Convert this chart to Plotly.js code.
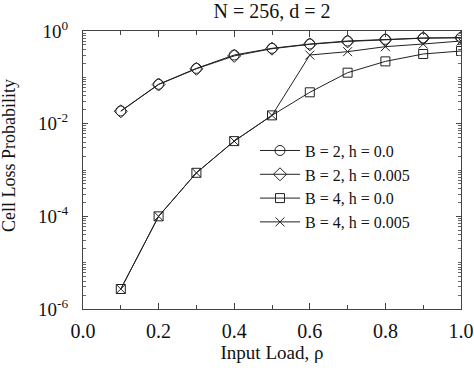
<!DOCTYPE html>
<html>
<head>
<meta charset="utf-8">
<script src="https://cdn.plot.ly/plotly-3.0.1.min.js"></script>
<style>html,body{margin:0;padding:0;background:#fff}#chart{width:474px;height:368px}</style>
</head>
<body>
<div id="chart"></div>
<script>
const load = [0.1, 0.2, 0.3, 0.4, 0.5, 0.6, 0.7, 0.8, 0.9, 1.0];
const b2h0 = [0.0188, 0.0707, 0.156, 0.303, 0.423, 0.524, 0.608, 0.66, 0.706, 0.72];
const b2h005 = [0.0185, 0.070, 0.153, 0.29, 0.415, 0.515, 0.595, 0.65, 0.70, 0.715];
const b4h0 = [2.7e-6, 1.0e-4, 8.7e-4, 4.2e-3, 0.0151, 0.0475, 0.126, 0.221, 0.319, 0.37];
const b4h005 = [2.7e-6, 1.0e-4, 8.7e-4, 4.2e-3, 0.0151, 0.303, 0.358, 0.459, 0.524, 0.608];
const seriesNames = ["B = 2, h = 0.0", "B = 2, h = 0.005", "B = 4, h = 0.0", "B = 4, h = 0.005"];
const yTickVals = [1e-6, 1e-4, 1e-2, 1];
const yTickText = ["10<sup>-6</sup>", "10<sup>-4</sup>", "10<sup>-2</sup>", "10<sup>0</sup>"];
const xTickVals = [0.0, 0.2, 0.4, 0.6, 0.8, 1.0];
const xTickText = ["0.0", "0.2", "0.4", "0.6", "0.8", "1.0"];

const font = "Liberation Serif, Times New Roman, serif";
const symbols = ["circle-open", "diamond-open", "square-open", "x-thin-open"];
const sizes = [10, 10, 9, 9];
const ys = [b2h0, b2h005, b4h0, b4h005];

const traces = ys.map((y, i) => ({
  x: load, y: y, name: seriesNames[i], type: "scatter", mode: "lines+markers",
  line: {color: "#222", width: 1},
  marker: {symbol: symbols[i], size: sizes[i], color: "#222", line: {color: "#222", width: 1}}
}));

const layout = {
  width: 474, height: 368,
  margin: {l: 83, r: 13, t: 31, b: 59},
  paper_bgcolor: "#fff", plot_bgcolor: "#fff",
  font: {family: font, size: 19, color: "#111"},
  title: {text: "N = 256, d = 2", font: {family: font, size: 20, color: "#111"}, x: 0.574, xanchor: "center", y: 0.97, yanchor: "middle"},
  showlegend: true,
  legend: {x: 0.455, y: 0.631, xanchor: "left", yanchor: "top", bgcolor: "rgba(0,0,0,0)", font: {family: font, size: 16}, tracegroupgap: 0, itemwidth: 40},
  xaxis: {
    range: [0, 1.0], tickmode: "array", tickvals: xTickVals, ticktext: xTickText,
    tickfont: {family: font, size: 20},
    ticks: "inside", ticklen: 6, tickcolor: "#444", mirror: "ticks", showline: true, linecolor: "#444", linewidth: 1,
    showgrid: false, zeroline: false, ticklabelstandoff: 4,
    minor: {ticks: "inside", ticklen: 4, tickcolor: "#444", dtick: 0.1, tick0: 0, showgrid: false},
    title: {text: "Input Load, ρ", font: {family: font, size: 19}, standoff: 4}
  },
  yaxis: {
    type: "log", range: [-6, 0], tickmode: "array", tickvals: yTickVals, ticktext: yTickText,
    tickfont: {family: font, size: 19},
    ticks: "inside", ticklen: 5, tickcolor: "#444", mirror: "ticks", showline: true, linecolor: "#444", linewidth: 1,
    showgrid: false, zeroline: false, ticklabelstandoff: 10,
    minor: {ticks: "inside", ticklen: 3, tickcolor: "#666", dtick: "D1", showgrid: false}
  },
  annotations: [{
    text: "Cell Loss Probability", xref: "paper", yref: "paper", x: -0.196, y: 0.554,
    xanchor: "center", yanchor: "middle", textangle: -90, showarrow: false,
    font: {family: font, size: 18, color: "#111"}
  }]
};

Plotly.newPlot("chart", traces, layout, {displayModeBar: false, staticPlot: true});
</script>
</body>
</html>
